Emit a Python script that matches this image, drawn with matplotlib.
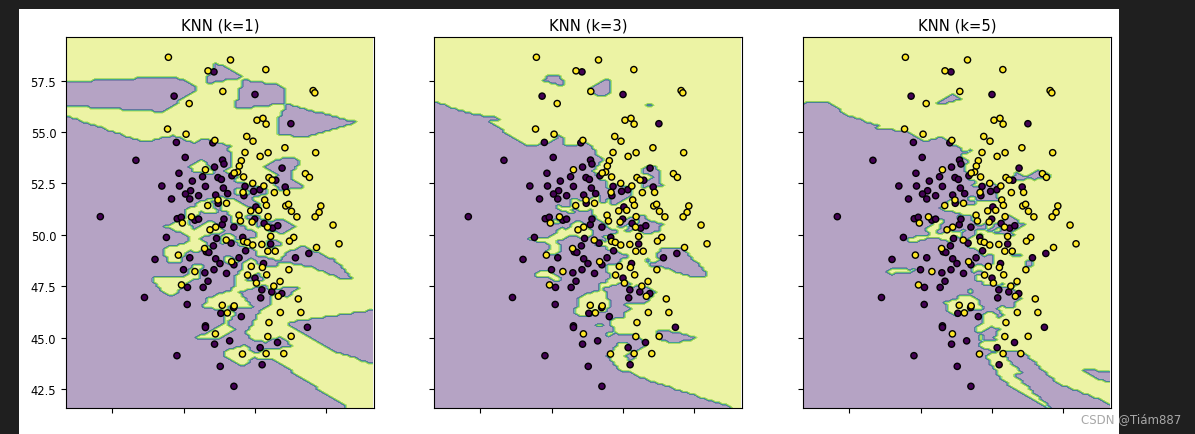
import numpy as np
import matplotlib
matplotlib.use('Agg')
import matplotlib.pyplot as plt
from matplotlib.patches import Rectangle

# points, class 0 (dark) and class 1 (yellow)
# lon is read on a 2.5 per tick grid and rescaled to 2 per tick below
lon_0 = [8.57, 7.17, 10.01, 11.27, 7.25, 8.53, 5.83, 7.56, 8.87, 8.92, 8.59, 10.96, 7.34, 8.17, 8.71, 8.83,
         9.20, 10.74, 7.81, 6.74, 7.36, 8.27, 8.90, 9.66, 11.07, 10.18, 9.96, 7.75, 7.57, 8.03, 8.63, 9.05,
         9.62, 7.08, 7.72, 8.72, 10.04, 4.58, 7.28, 7.42, 7.90, 8.03, 8.86, 8.92, 9.27, 10.33, 10.63, 10.81,
         10.00, 6.90, 9.58, 10.56, 9.17, 8.55, 8.30, 8.39, 9.68, 8.66, 7.72, 6.50, 9.45, 8.63, 8.78, 9.27,
         11.43, 11.90, 10.31, 7.50, 8.25, 8.57, 9.01, 10.01, 8.36, 7.64, 8.19, 10.25, 10.60, 10.95, 10.21,
         6.13, 7.63, 9.26, 8.81, 9.53, 8.27, 8.27, 11.85, 9.12, 8.59, 10.80, 10.19, 7.27, 8.79, 10.26, 9.27]
lat_0 = [57.92, 56.74, 56.82, 55.40, 54.49, 54.47, 53.62, 53.76, 53.63, 53.44, 53.29, 53.24, 52.99, 52.82, 52.78, 52.69,
         52.87, 52.65, 52.61, 52.37, 52.37, 52.35, 52.27, 52.35, 52.32, 52.19, 52.11, 52.14, 51.98, 51.90, 51.93, 52.00,
         51.90, 51.74, 51.74, 51.53, 51.35, 50.88, 50.78, 50.85, 50.71, 50.76, 50.49, 50.76, 50.37, 50.55, 50.32, 50.44,
         50.76, 49.87, 49.87, 49.55, 49.59, 49.46, 49.17, 49.14, 49.22, 49.82, 48.88, 48.80, 48.88, 48.83, 48.60, 48.54,
         48.88, 49.09, 48.60, 48.30, 48.15, 48.30, 48.12, 47.89, 47.74, 47.44, 47.44, 47.32, 47.22, 47.14, 46.93,
         46.95, 46.61, 46.46, 46.18, 46.02, 45.57, 45.49, 45.50, 44.84, 44.68, 44.76, 44.51, 44.12, 43.60, 43.68, 42.63]

lon_1 = [6.97, 9.15, 8.36, 10.39, 8.88, 12.05, 12.11, 7.70, 10.08, 10.29, 10.40, 6.94, 7.59, 8.60, 9.72, 9.94,
         9.66, 10.19, 10.47, 11.06, 12.14, 9.53, 9.46, 8.27, 9.40, 9.28, 9.61, 10.50, 10.61, 11.78, 11.92, 9.93,
         10.32, 9.59, 10.69, 11.12, 8.71, 10.35, 9.01, 10.41, 8.35, 11.09, 11.19, 12.32, 9.86, 10.14, 11.29, 12.26,
         9.45, 10.47, 11.48, 12.12, 7.78, 7.46, 9.50, 9.91, 10.45, 8.63, 8.43, 12.75, 10.56, 11.37, 11.22, 9.00,
         9.61, 9.74, 9.93, 10.25, 12.96, 12.17, 8.24, 10.46, 10.72, 7.32, 9.19, 9.88, 10.27, 11.20, 7.90, 10.42,
         9.75, 10.06, 10.89, 7.43, 10.67, 10.83, 11.53, 8.86, 9.28, 9.04, 10.90, 11.62, 10.50, 8.62, 10.46, 11.28,
         9.57, 10.40, 11.02]
lat_1 = [58.63, 58.50, 57.97, 58.03, 56.97, 57.01, 56.90, 56.38, 55.57, 55.66, 55.38, 55.14, 54.89, 54.59, 54.78, 54.55,
         54.00, 53.81, 53.99, 54.23, 53.99, 53.60, 53.34, 53.16, 53.05, 53.00, 52.81, 52.78, 52.66, 52.97, 52.79, 52.50,
         52.37, 52.06, 52.05, 52.06, 51.69, 51.69, 51.53, 51.43, 51.42, 51.40, 51.48, 51.40, 51.16, 51.19, 51.14, 51.09,
         50.95, 50.88, 50.87, 50.87, 50.87, 50.57, 50.67, 50.62, 50.37, 50.37, 50.24, 50.47, 49.92, 49.87, 49.69, 49.74,
         49.68, 49.63, 49.50, 49.53, 49.56, 49.38, 49.33, 49.20, 49.20, 49.01, 48.69, 48.46, 48.41, 48.30, 48.21, 48.05,
         48.04, 47.65, 47.73, 47.56, 47.50, 47.01, 46.88, 46.57, 46.54, 46.20, 46.22, 46.22, 45.73, 45.18, 45.05, 45.06,
         44.20, 44.22, 44.22]

k_values = [1, 3, 5]
x_ticks = [6, 8, 10, 12]
y_ticks = [42.5, 45.0, 47.5, 50.0, 52.5, 55.0, 57.5]

X = np.column_stack([(np.array(lon_0 + lon_1) - 5) * 0.8 + 6, lat_0 + lat_1])
y = np.array([0] * len(lon_0) + [1] * len(lon_1))


def knn_predict(X, y, grid, k):
    out = np.zeros(len(grid))
    for i in range(0, len(grid), 2000):
        part = grid[i:i + 2000]
        d = ((part[:, None, :] - X[None, :, :]) ** 2).sum(axis=2)
        idx = np.argsort(d, axis=1)[:, :k]
        out[i:i + 2000] = y[idx].mean(axis=1) > 0.5
    return out


W, H = 1195, 435
fig = plt.figure(figsize=(W / 100, H / 100), dpi=100, facecolor='#1f1f1f')
fig.add_artist(Rectangle((19 / W, 0), 1100 / W, 425.5 / H, transform=fig.transFigure,
                         facecolor='white', edgecolor='none', zorder=-5))

xmin, xmax = 4.70, 13.35
ymin, ymax = 41.60, 59.64
xx, yy = np.meshgrid(np.arange(xmin, xmax, 0.1), np.arange(ymin, ymax, 0.1))
grid = np.c_[xx.ravel(), yy.ravel()]

lefts = [66, 434, 803]
for j, k in enumerate(k_values):
    ax = fig.add_axes([lefts[j] / W, (H - 408.5) / H, 308 / W, 371 / H])
    Z = knn_predict(X, y, grid, k).reshape(xx.shape)
    ax.contourf(xx, yy, Z, alpha=0.4)
    ax.scatter(X[:, 0], X[:, 1], c=y, s=20, edgecolor='k', linewidths=1.0)
    ax.set_xlim(xmin, xmax)
    ax.set_ylim(ymin, ymax)
    ax.set_xticks(x_ticks)
    ax.set_xticklabels([])
    ax.set_yticks(y_ticks)
    if j == 0:
        ax.set_yticklabels(['%.1f' % v for v in y_ticks])
    else:
        ax.set_yticklabels([])
    ax.tick_params(labelsize=8.3, length=3.5, width=0.8)
    ax.set_title('KNN (k=%d)' % k, fontsize=10.6, pad=5)

fig.text(1081 / W, (H - 420) / H, 'CSDN @Tiám887', color='#a8a8a8', fontsize=8.5, va='center')

fig.savefig('out.png', dpi=100, facecolor=fig.get_facecolor())
